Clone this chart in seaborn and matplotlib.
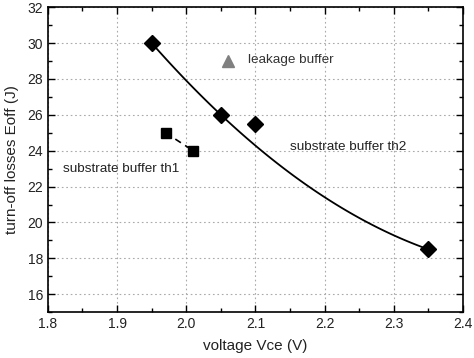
import numpy as np
import pandas as pd
import seaborn as sns
import matplotlib.pyplot as plt
from matplotlib.ticker import MultipleLocator

# data
th2_vce = [1.95, 2.05, 2.10, 2.35]
th2_eoff = [30.0, 26.0, 25.5, 18.5]
th1_vce = [1.97, 2.01]
th1_eoff = [25.0, 24.0]
leak_vce = [2.06]
leak_eoff = [29.0]

sns.set_style("ticks")
plt.rcParams['font.family'] = ['Liberation Sans', 'DejaVu Sans']
plt.rcParams['xtick.direction'] = 'in'
plt.rcParams['ytick.direction'] = 'in'

fig = plt.figure(figsize=(4.74, 3.58), dpi=100)
ax = fig.add_axes([0.101, 0.128, 0.876, 0.852])

# trend curve (quadratic through the th2 points, 2.1 V point left out)
fx = [th2_vce[i] for i in (0, 1, 3)]
fy = [th2_eoff[i] for i in (0, 1, 3)]
coef = np.polyfit(fx, fy, 2)
xf = np.linspace(th2_vce[0], th2_vce[-1], 100)
fit = pd.DataFrame({'x': xf, 'y': np.polyval(coef, xf)})
sns.lineplot(data=fit, x='x', y='y', ax=ax, color='black', linewidth=1.3)

# th1 squares with dashed line
th1 = pd.DataFrame({'x': th1_vce, 'y': th1_eoff})
sns.lineplot(data=th1, x='x', y='y', ax=ax, color='black', linewidth=1.2,
             linestyle=(0, (4, 3)))
ax.plot(th1_vce, th1_eoff, 's', color='black', markersize=7, linestyle='none')

# th2 diamonds
ax.plot(th2_vce, th2_eoff, 'D', color='black', markersize=8.5, linestyle='none')

# leakage triangle
ax.plot(leak_vce, leak_eoff, '^', color='#808080', markersize=8, linestyle='none')

# labels
txt = '#222222'
ax.text(2.089, 29.05, 'leakage buffer', fontsize=9.7, color='#333333', va='center')
ax.text(1.822, 23.0, 'substrate buffer th1', fontsize=9.7, color=txt, va='center')
ax.text(2.15, 24.2, 'substrate buffer th2', fontsize=9.7, color=txt, va='center')

# axes
ax.set_xlim(1.8, 2.4)
ax.set_ylim(15, 32)
ax.xaxis.set_major_locator(MultipleLocator(0.1))
ax.xaxis.set_minor_locator(MultipleLocator(0.05))
ax.yaxis.set_major_locator(MultipleLocator(2))
ax.yaxis.set_minor_locator(MultipleLocator(1))
ax.set_yticks([16, 18, 20, 22, 24, 26, 28, 30, 32])
ax.tick_params(which='both', top=True, right=True, labelsize=10,
               color='black', labelcolor=txt)
ax.tick_params(which='major', length=5, width=1)
ax.tick_params(which='minor', length=3, width=1)
ax.grid(True, which='major', linestyle=(0, (1.5, 2.5)), color='#aaaaaa', linewidth=0.8)
for s in ax.spines.values():
    s.set_color('black')
    s.set_linewidth(1.2)
ax.set_xlabel('voltage Vce (V)', fontsize=11, labelpad=6, color=txt)
ax.set_ylabel('turn-off losses Eoff (J)', fontsize=11, labelpad=6, color=txt)

fig.savefig('out.png', dpi=100)
